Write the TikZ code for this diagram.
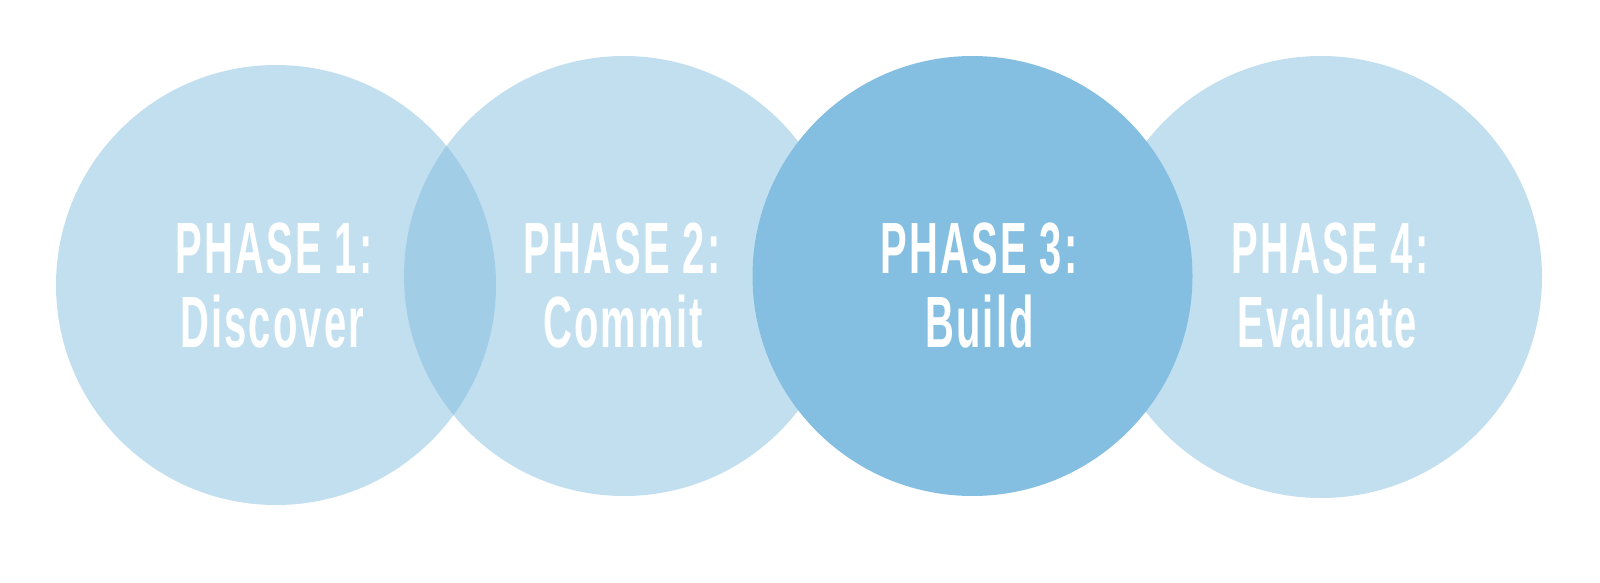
\documentclass[tikz,border=0pt]{standalone}
\usepackage{fontspec}
\newfontfamily\phasefont[FakeStretch=0.55,LetterSpace=3]{Liberation Sans}
\definecolor{lightblue}{HTML}{C2DFF0}
\definecolor{overlapblue}{HTML}{A1CDE6}
\definecolor{darkblue}{HTML}{84BEE0}
\tikzset{
  phasetext/.style={anchor=base, inner sep=0pt, text=white,
    font=\phasefont\bfseries\fontsize{72.6}{74.5}\selectfont},
}
\begin{document}
\begin{tikzpicture}[x=1pt,y=-1pt]
\useasboundingbox (0,0) rectangle (1600,583);
\coordinate (c1) at (276,285);
\coordinate (c2) at (624,276);
\coordinate (c3) at (972.5,276);
\coordinate (c4) at (1321,277);
\fill[lightblue] (c1) circle (220);
\fill[lightblue] (c2) circle (220);
\begin{scope}
  \clip (c1) circle (220);
  \fill[overlapblue] (c2) circle (220);
\end{scope}
\fill[lightblue] (c4) circle (221);
\fill[darkblue] (c3) circle (220);
\node[phasetext] (p1a) at (274,273) {PHASE 1:};
\node[phasetext] (p1b) at (272,347) {Discover};
\node[phasetext] (p2a) at (622,273) {PHASE 2:};
\node[phasetext] (p2b) at (623,347) {Commit};
\node[phasetext] (p3a) at (979,273) {PHASE 3:};
\node[phasetext] (p3b) at (979.5,347) {Build};
\node[phasetext] (p4a) at (1330,273) {PHASE 4:};
\node[phasetext] (p4b) at (1327,347) {Evaluate};
\end{tikzpicture}
\end{document}
